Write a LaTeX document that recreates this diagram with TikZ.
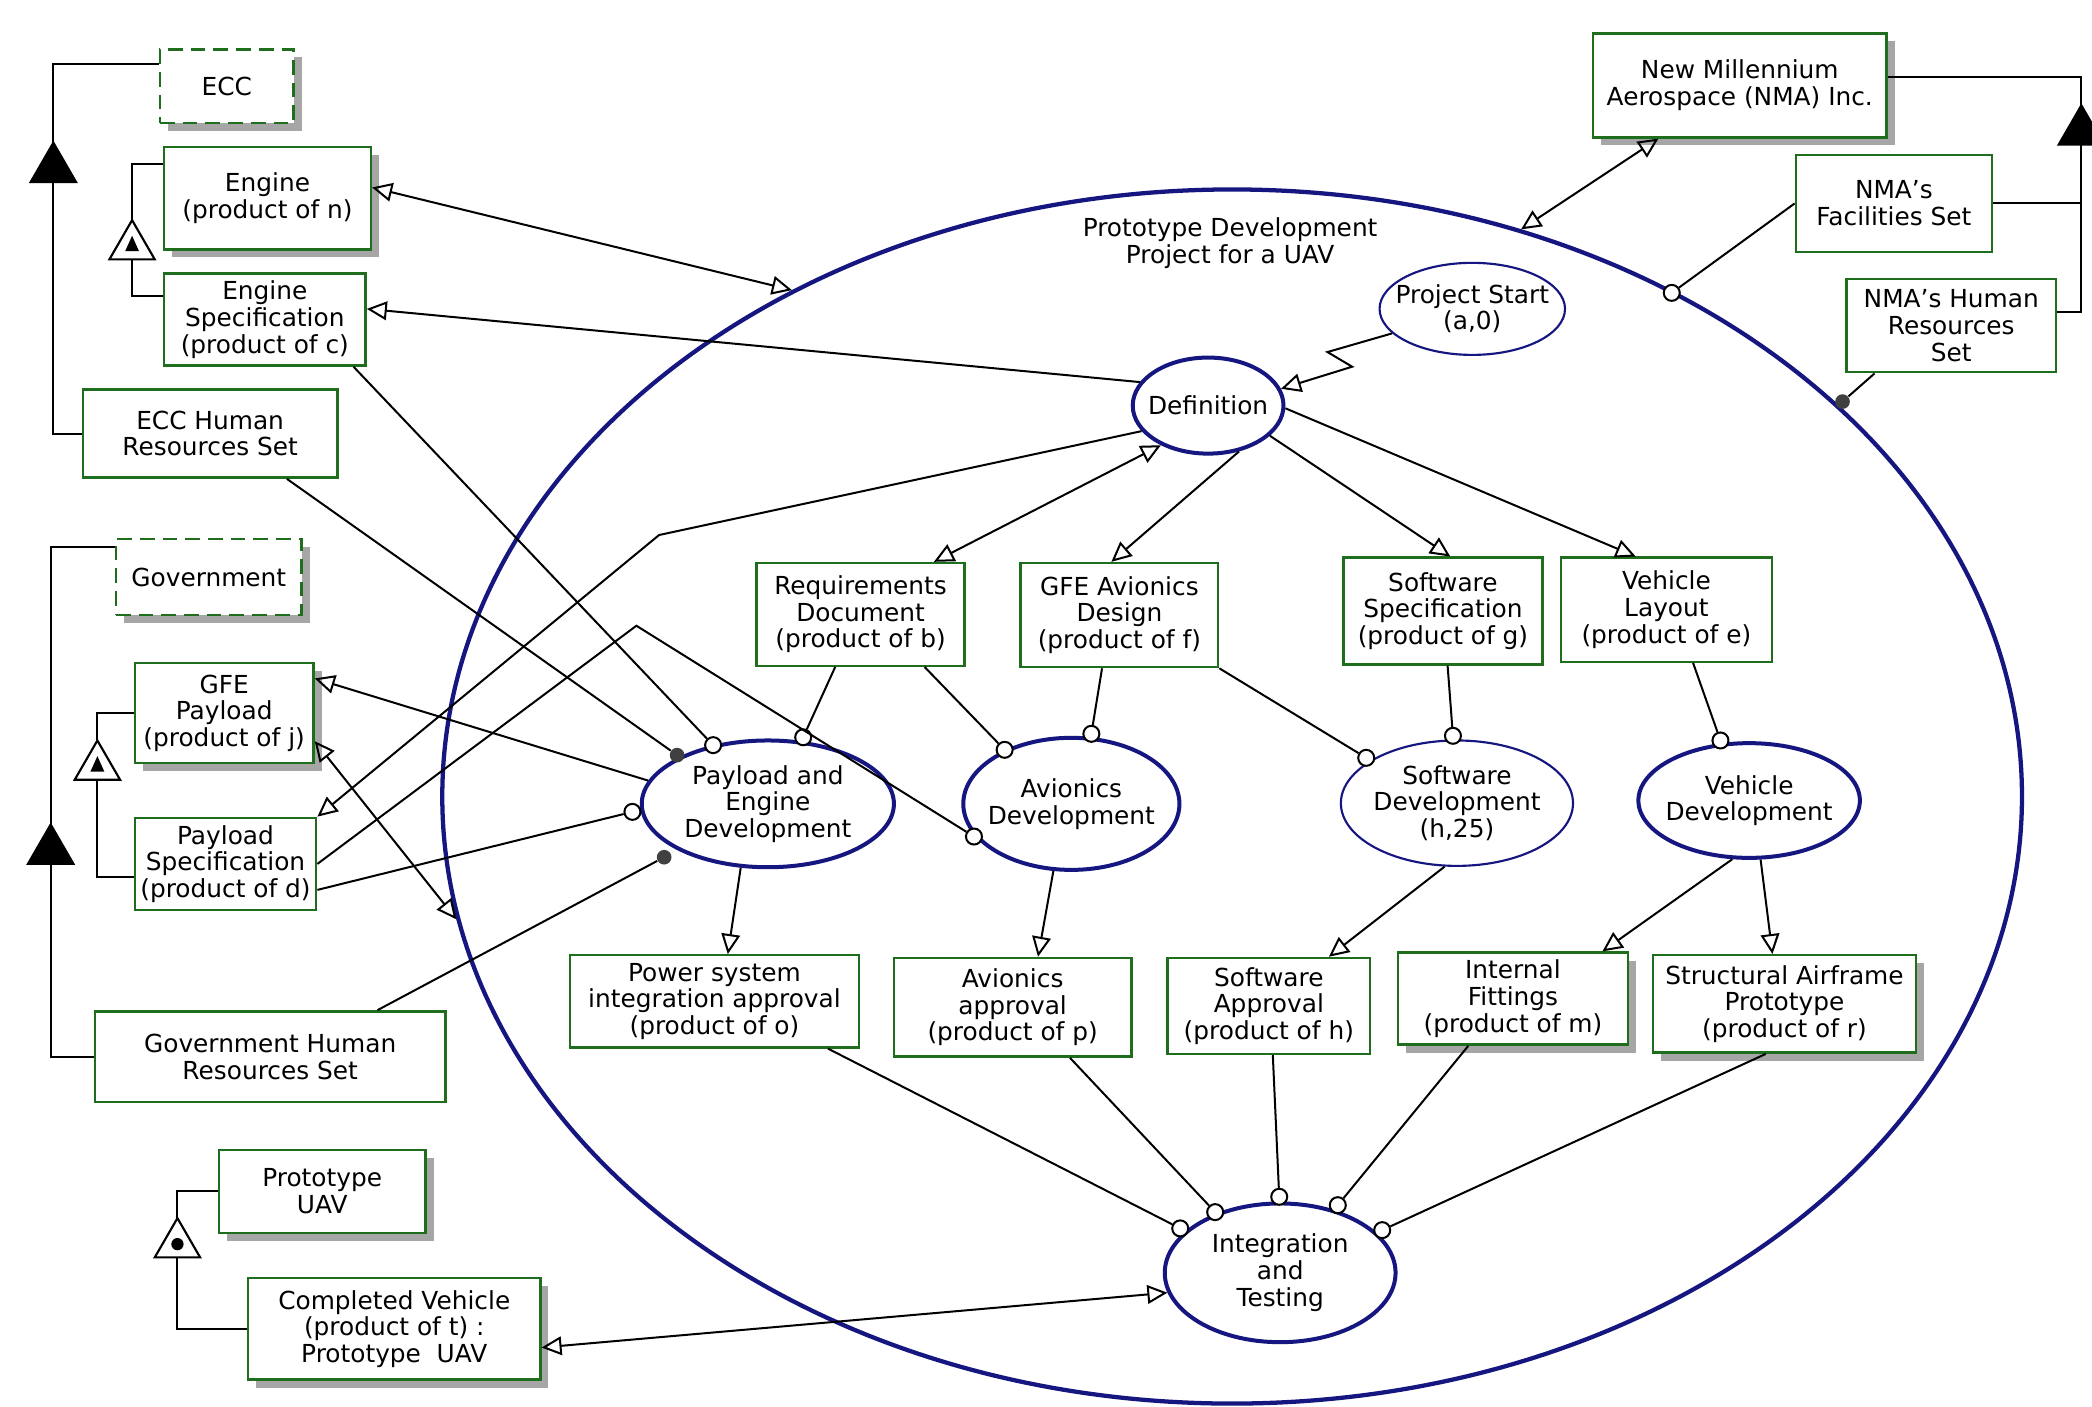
\documentclass[tikz,border=0pt]{standalone}
\usepackage{fontspec}
\setmainfont{DejaVu Sans}
\usepackage{tikz}
\usetikzlibrary{shapes.geometric, arrows.meta, positioning, calc, shadows}

\definecolor{objgreen}{RGB}{30,110,30}
\definecolor{procblue}{RGB}{22,22,128}

\tikzset{
  wd/.style={minimum width=#1*0.5pt},
  ht/.style={minimum height=#1*0.5pt},
  obj/.style={draw=objgreen, line width=0.9pt, fill=white, align=center, inner sep=0pt},
  physobj/.style={obj, drop shadow={shadow xshift=3pt, shadow yshift=-3pt, fill=black!35, opacity=1}},
  envobj/.style={physobj, dash pattern=on 5.5pt off 3pt},
  proc/.style={ellipse, draw=procblue, line width=1.5pt, fill=white, align=center, inner xsep=-15pt, inner ysep=0pt},
  thinproc/.style={proc, line width=0.8pt},
  inst/.style={circle, draw, fill=white, line width=0.75pt, minimum size=6pt, inner sep=0pt},
  agent/.style={circle, fill=black!75, minimum size=5.5pt, inner sep=0pt},
  tri/.style={regular polygon, regular polygon sides=3, draw, line width=0.8pt, minimum size=19.6pt, inner sep=0pt, outer sep=0pt},
  aggr/.style={tri, fill=black},
  exhib/.style={tri, fill=white, path picture={\fill[black] ([yshift=1.5pt]path picture bounding box.center) -- ++(-2.6pt,-5.8pt) -- ++(5.2pt,0pt) -- cycle;}},
  classif/.style={tri, fill=white, path picture={\fill[black] ([yshift=-2.4pt]path picture bounding box.center) circle (2.3pt);}},
  lnk/.style={line width=0.75pt},
  res/.style={lnk, -{Triangle[open, length=7.5pt, width=7pt]}},
  eff/.style={lnk, {Triangle[open, length=7.5pt, width=7pt]}-{Triangle[open, length=7.5pt, width=7pt]}}
}

\begin{document}
\begin{tikzpicture}[x=0.5pt, y=-0.5pt, font=\fontsize{9.3}{10}\selectfont]
\useasboundingbox (0,0) rectangle (1568,1054);

% In-zoomed project
\node[proc, line width=1.6pt, fill=none, wd=1184, ht=910] (proj) at (923.5,597) {};
\node[align=center] (projtitle) at (922,182) {Prototype Development\\Project for a UAV};

% ECC
\node[envobj, wd=100, ht=55] (ecc) at (170,64.5) {ECC};
\node[physobj, wd=155, ht=77] (eng) at (200.5,148.5) {Engine\\(product of n)};
\node[obj, wd=151, ht=69] (engspec) at (198.5,239.5) {Engine\\Specification\\(product of c)};
\node[obj, wd=191, ht=66] (ecchr) at (157.5,325) {ECC Human\\Resources Set};
\node[aggr] (aggEcc) at (40,126.6) {};
\node[exhib] (exEng) at (99,184.6) {};

% Government
\node[envobj, wd=139, ht=57] (gov) at (156.5,432.5) {Government};
\node[physobj, wd=134, ht=75] (gfep) at (168,534.5) {GFE\\Payload\\(product of j)};
\node[obj, wd=136, ht=69] (pspec) at (169,647.5) {Payload\\Specification\\(product of d)};
\node[obj, wd=263, ht=68] (govhr) at (202.5,792) {Government Human\\Resources Set};
\node[aggr] (aggGov) at (38,637.6) {};
\node[exhib] (exGfe) at (73,574.6) {};

% Prototype UAV
\node[physobj, wd=155, ht=62] (proto) at (241.5,893) {Prototype\\UAV};
\node[physobj, wd=219, ht=76] (cveh) at (295.5,996) {Completed Vehicle\\(product of t) :\\Prototype\ \ UAV};
\node[classif] (clProto) at (133,932.6) {};

% NMA
\node[physobj, wd=220, ht=78] (nma) at (1304,64) {New Millennium\\Aerospace (NMA) Inc.};
\node[obj, wd=147, ht=73] (fac) at (1419.5,152.5) {NMA’s\\Facilities Set};
\node[obj, wd=157, ht=70] (nmahr) at (1462.5,244) {NMA's Human\\Resources\\Set};
\node[aggr] (aggNma) at (1560,98.6) {};

% Subprocesses
\node[thinproc, wd=139, ht=69] (pstart) at (1103.5,231.5) {Project Start\\(a,0)};
\node[proc, wd=113, ht=72] (def) at (905.5,304) {Definition};
\node[proc, wd=189, ht=95] (pd) at (575.5,602.5) {Payload and\\Engine\\Development};
\node[proc, wd=162, ht=99] (ad) at (803,602.5) {Avionics\\Development};
\node[thinproc, wd=174, ht=94] (sd) at (1092,602) {Software\\Development\\(h,25)};
\node[proc, wd=166, ht=86] (vd) at (1311,600) {Vehicle\\Development};
\node[proc, wd=173, ht=104] (it) at (959.5,954) {Integration\\and\\Testing};

% Inner objects
\node[obj, wd=156, ht=77] (req) at (645,460.5) {Requirements\\Document\\(product of b)};
\node[obj, wd=148, ht=78] (gfeav) at (839,461) {GFE Avionics\\Design\\(product of f)};
\node[obj, wd=149, ht=80] (swspec) at (1081.5,458) {Software\\Specification\\(product of g)};
\node[obj, wd=158, ht=78] (vlay) at (1249,457) {Vehicle\\Layout\\(product of e)};
\node[obj, wd=217, ht=69] (psa) at (535.5,750.5) {Power system\\integration approval\\(product of o)};
\node[obj, wd=178, ht=74] (aa) at (759,755) {Avionics\\approval\\(product of p)};
\node[obj, wd=152, ht=72] (sa) at (951,754) {Software\\Approval\\(product of h)};
\node[physobj, wd=172, ht=69] (ifit) at (1134,748.5) {Internal\\Fittings\\(product of m)};
\node[physobj, wd=197, ht=73] (sap) at (1337.5,752.5) {Structural Airframe\\Prototype\\(product of r)};

% Instrument / agent ends
\node[inst] (pdI1) at (534.5,558.5) {};
\node[inst] (pdI2) at (602,552.6) {};
\node[inst] (pdI3) at (474,608.5) {};
\node[agent] (pdA1) at (507.5,566) {};
\node[agent] (pdA2) at (497.8,642.5) {};
\node[inst] (adI1) at (753,562) {};
\node[inst] (adI2) at (818,550) {};
\node[inst] (adI3) at (730,627) {};
\node[inst] (sdI1) at (1024,568) {};
\node[inst] (sdI2) at (1089,551.5) {};
\node[inst] (vdI1) at (1289.5,555) {};
\node[inst] (projI1) at (1253,219.5) {};
\node[agent] (projA1) at (1381,301) {};
\foreach \n/\px/\py in {1/884.6/920.7, 2/910.8/908.5, 3/958.8/897, 4/1002.7/903.3, 5/1036/922}
  \node[inst] (itI\n) at (\px,\py) {};

\coordinate (kinkD) at (494,401);
\coordinate (kinkA) at (477,469);

% Structural links
\draw[lnk] ($(ecc.north west)+(0,12)$) -| (aggEcc.north);
\draw[lnk] (aggEcc.south) |- (ecchr.west);
\draw[lnk] ($(eng.north west)+(0,14)$) -| (exEng.north);
\draw[lnk] (exEng.south) |- ($(engspec.north west)+(0,18)$);
\draw[lnk] ($(gov.north west)+(0,7)$) -| (aggGov.north);
\draw[lnk] (aggGov.south) |- (govhr.west);
\draw[lnk] (gfep.west) -| (exGfe.north);
\draw[lnk] (exGfe.south) |- ($(pspec.west)+(0,9.5)$);
\draw[lnk] (proto.west) -| (clProto.north);
\draw[lnk] (clProto.south) |- (cveh.west);
\draw[lnk] ($(nma.east)+(0,-6.5)$) -| (aggNma.north);
\draw[lnk] (aggNma.south) |- ($(nmahr.east)+(0,-10)$);
\draw[lnk] (fac.east) -- (fac.east -| aggNma.south);

% Effect links
\draw[eff] ($(eng.east)+(0,-8)$) -- (proj.131);
\draw[eff] ($(nma.south)+(-61,0)$) -- (proj.63);
\draw[eff] ($(gfep.east)+(0,21)$) -- (proj.-171);
\draw[eff] ($(cveh.east)+(0,14)$) -- (it.190);
\draw[eff] (def.220) -- ($(req.north)+(55,0)$);

% Event link
\draw[res] (pstart.197) -- ++(-48.5,14) -- ++(18.5,11) -- (def.13);

% Result links
\draw[res] (def.161) -- ($(engspec.east)+(0,-8)$);
\draw[res] (def.201) -- (kinkD) -- (pspec.north east);
\draw[res] (def.-56) -- ($(gfeav.north)+(-6,0)$);
\draw[res] (def.-26) -- ($(swspec.north)+(5.5,0)$);
\draw[res] (def.-2) -- ($(vlay.north)+(-23,0)$);
\draw[res] (pd.169) -- ($(gfep.east)+(0,-26)$);
\draw[res] (pd.247) -- ($(psa.north)+(10,0)$);
\draw[res] (ad.255) -- ($(aa.north)+(19,0)$);
\draw[res] (sd.259) -- ($(sa.north)+(45,0)$);
\draw[res] (vd.254) -- ($(ifit.north)+(67,0)$);
\draw[res] (vd.281) -- ($(sap.north)+(-9,0)$);

% Instrument links
\draw[lnk] ($(engspec.south)+(66.5,0)$) -- (pdI1);
\draw[lnk] ($(req.south)+(-19,0)$) -- (pdI2);
\draw[lnk] ($(pspec.east)+(0,19.5)$) -- (pdI3);
\draw[lnk] ($(req.south)+(48,0)$) -- (adI1);
\draw[lnk] ($(gfeav.south)+(-13,0)$) -- (adI2);
\draw[lnk] (pspec.east) -- (kinkA) -- (adI3);
\draw[lnk] (gfeav.south east) -- (sdI1);
\draw[lnk] ($(swspec.south)+(3.5,0)$) -- (sdI2);
\draw[lnk] ($(vlay.south)+(20,0)$) -- (vdI1);
\draw[lnk] (fac.west) -- (projI1);
\draw[lnk] ($(psa.south)+(85,0)$) -- (itI1);
\draw[lnk] ($(aa.south)+(43,0)$) -- (itI2);
\draw[lnk] ($(sa.south)+(3,0)$) -- (itI3);
\draw[lnk] ($(ifit.south)+(-33.5,0)$) -- (itI4);
\draw[lnk] ($(sap.south)+(-14,0)$) -- (itI5);

% Agent links
\draw[lnk] ($(ecchr.south)+(57.5,0)$) -- (pdA1);
\draw[lnk] ($(govhr.north)+(80.5,0)$) -- (pdA2);
\draw[lnk] ($(nmahr.south)+(-57.5,0)$) -- (projA1);
\end{tikzpicture}
\end{document}
